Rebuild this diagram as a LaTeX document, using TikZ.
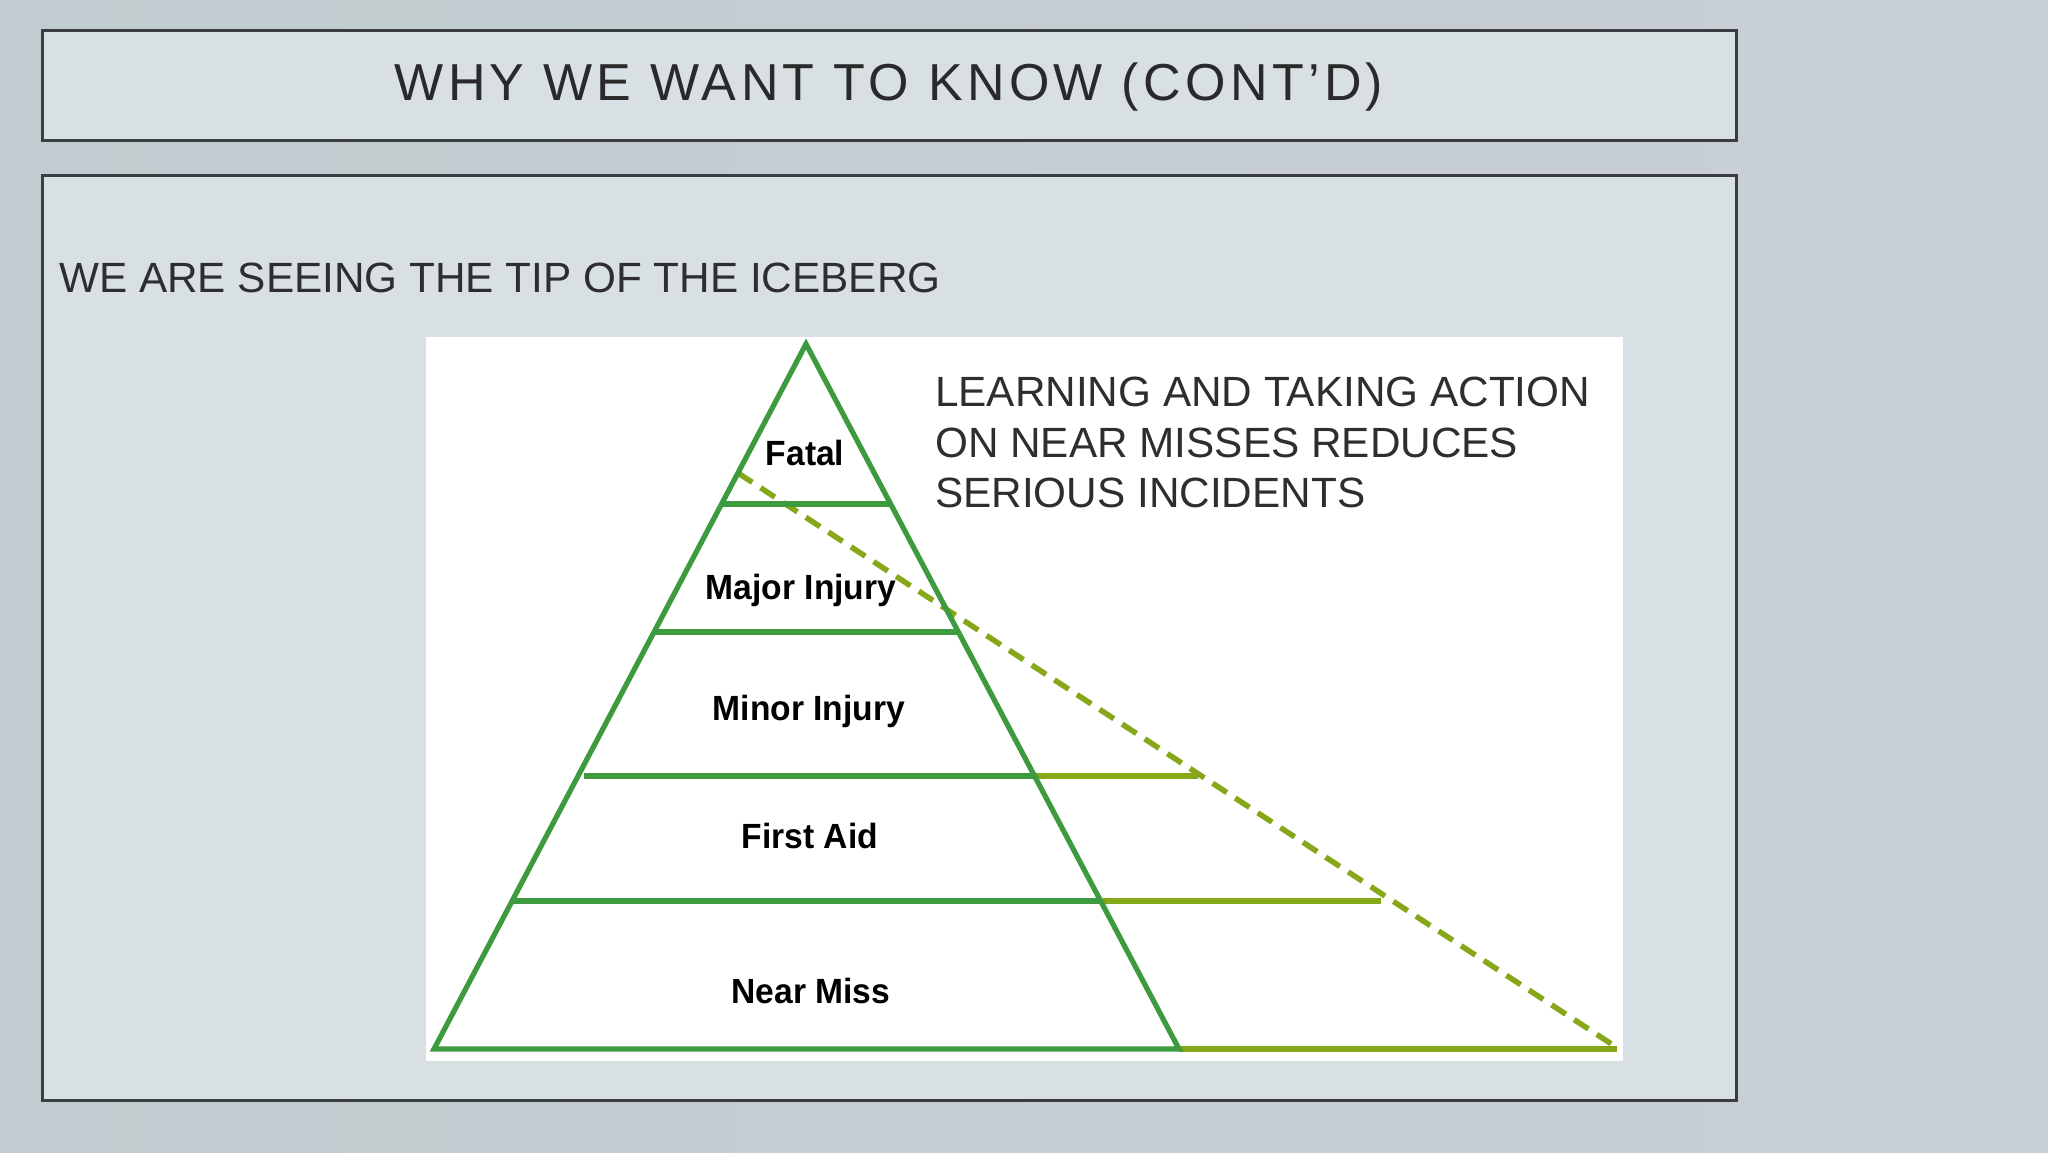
\documentclass[tikz,border=0pt]{standalone}
\usepackage{fontspec}
\setmainfont{Liberation Sans}
\newfontfamily\lvlfont[FakeStretch=0.96]{Liberation Sans}
\definecolor{bgL}{HTML}{C0CCCF}
\definecolor{bgR}{HTML}{C9CFD6}
\definecolor{boxfill}{HTML}{D8E0E3}
\definecolor{boxline}{HTML}{3A3E42}
\definecolor{pyrgreen}{HTML}{3D9A3F}
\definecolor{olivegreen}{HTML}{86A818}
\definecolor{titletext}{HTML}{2A2A2A}
\definecolor{bodytext}{HTML}{2E2E2E}
\begin{document}
\begin{tikzpicture}[x=1pt,y=-1pt,
  slidebox/.style={draw=boxline, line width=3pt, fill=boxfill},
  pyr/.style={draw=pyrgreen, line width=5.2pt},
  extline/.style={draw=olivegreen, line width=5.2pt},
  dashline/.style={draw=olivegreen, line width=5.5pt, dash pattern=on 17pt off 10pt},
  lvl/.style={font=\fontsize{35}{40}\lvlfont\bfseries, text=black, inner sep=0pt, anchor=base},
  bodytxt/.style={font=\fontsize{42.3}{50.5}\selectfont, text=bodytext, inner sep=0pt, anchor=base west}]
\useasboundingbox (0,0) rectangle (2048,1152);
\fill[left color=bgL, right color=bgR] (0,0) rectangle (2048,1152);
% boxes
\draw[slidebox] (42,30) rectangle (1736,140);
\draw[slidebox] (42,175) rectangle (1736,1100);
% title
\node[font=\fontsize{52}{60}\selectfont\addfontfeature{LetterSpace=8.4}, text=titletext, inner sep=0pt, anchor=base] (title) at (889,100) {WHY WE WANT TO KNOW (CONT’D)};
\node[bodytxt] (subtitle) at (59,292) {WE ARE SEEING THE TIP OF THE ICEBERG};
% white panel
\fill[white] (426,337) rectangle (1623,1061);
% pyramid geometry
\coordinate (apex) at (806,344);
\coordinate (bl) at (434,1049);
\coordinate (br) at (1179,1049);
\coordinate (l1) at (721.6,504); \coordinate (r1) at (890.7,504);
\coordinate (l2) at (654.0,632); \coordinate (r2) at (958.4,632);
\coordinate (l3) at (584,776);   \coordinate (r3) at (1034.6,776);
\coordinate (l4) at (512.1,901); \coordinate (r4) at (1100.7,901);
\coordinate (ds) at (738,473);
\coordinate (de) at (1613,1045);
\coordinate (e3) at (1198,776);
\coordinate (e4) at (1381,901);
% extension lines
\draw[extline] (r3) -- (e3);
\draw[extline] (r4) -- (e4);
\draw[extline] (br) -- (1617,1049);
% dashed line
\draw[dashline] (ds) -- (de);
% pyramid
\draw[pyr, line join=miter] (apex) -- (br) -- (bl) -- cycle;
\draw[pyr] (l1) -- (r1);
\draw[pyr] (l2) -- (r2);
\draw[pyr] (l3) -- (r3);
\draw[pyr] (l4) -- (r4);
% labels
\node[lvl] (fatal) at (805,465) {Fatal};
\node[lvl] (major) at (801,599) {Major Injury};
\node[lvl] (minor) at (809,720) {Minor Injury};
\node[lvl] (firstaid) at (810,848) {First Aid};
\node[lvl] (nearmiss) at (811,1003) {Near Miss};
% right text
\node[bodytxt] (t1) at (935,406) {LEARNING AND TAKING ACTION};
\node[bodytxt] (t2) at (935,457) {ON NEAR MISSES REDUCES};
\node[bodytxt] (t3) at (935,507) {SERIOUS INCIDENTS};
\end{tikzpicture}
\end{document}
